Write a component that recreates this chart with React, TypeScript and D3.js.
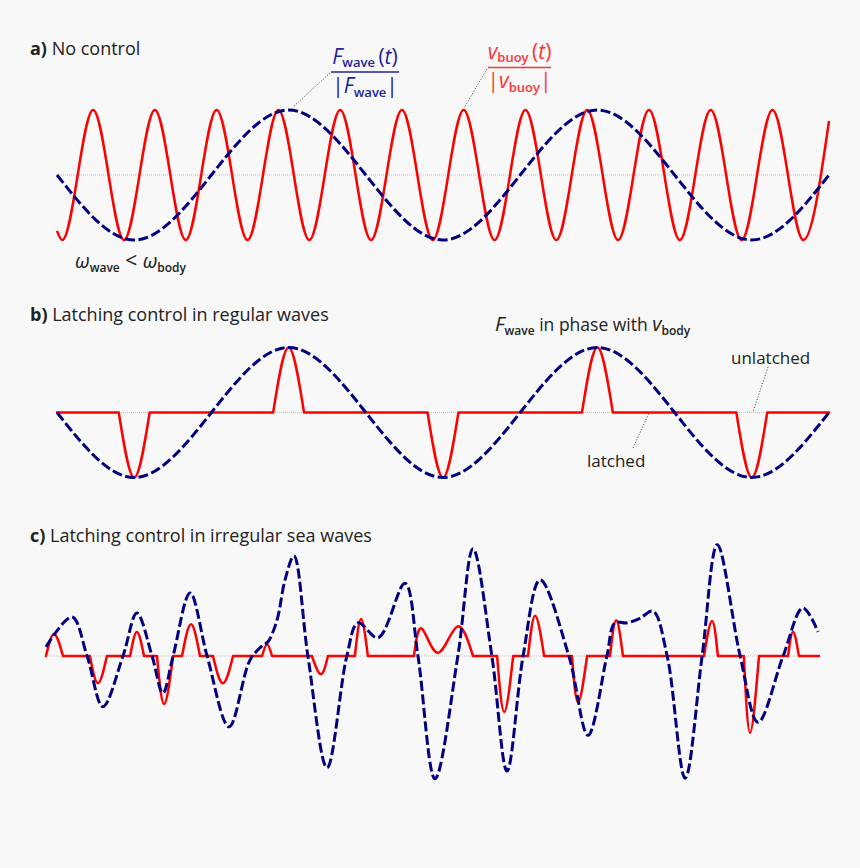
import * as React from 'react'
import { useEffect, useRef } from 'react'
import * as d3 from 'd3'

type Pt = [number, number]

// time axis (s) shared by the three panels
const T_END = 25

// panel a / b : regular wave force (normalised)
const regularWave: Pt[] = [
  [0, 0], [2.5, -1], [5, 0], [7.5, 1], [10, 0], [12.5, -1], [15, 0],
  [17.5, 1], [20, 0], [22.5, -1], [25, 0],
]

// panel a : free buoy velocity, read at its crests and troughs
const buoyVelocityA: Pt[] = [
  [0, -0.86], [0.17, -1], [1.17, 1], [2.17, -1], [3.17, 1], [4.17, -1],
  [5.17, 1], [6.17, -1], [7.17, 1], [8.17, -1], [9.17, 1], [10.17, -1],
  [11.17, 1], [12.17, -1], [13.17, 1], [14.17, -1], [15.17, 1], [16.17, -1],
  [17.17, 1], [18.17, -1], [19.17, 1], [20.17, -1], [21.17, 1], [22.17, -1],
  [23.17, 1], [24.17, -1], [25, 0.83],
]

// panel b : unlatched pulses of the buoy velocity (latched = 0 in between)
const pulsesB: Pt[][] = [
  [[2, 0], [2.5, -1], [3, 0]],
  [[7, 0], [7.5, 1], [8, 0]],
  [[12, 0], [12.5, -1], [13, 0]],
  [[17, 0], [17.5, 1], [18, 0]],
  [[22, 0], [22.5, -1], [23, 0]],
]

// panel c : irregular sea force
const irregularWave: Pt[] = [
  [0, 0.14], [0.84, 0.6], [1.33, 0], [1.84, -0.78], [2.49, 0], [2.94, 0.66],
  [3.43, 0], [3.78, -0.57], [4.11, 0], [4.66, 0.97], [5.21, 0], [5.92, -1.09],
  [6.6, -0.06], [7.02, 0.17], [7.18, 0.22], [7.47, 0.55], [7.73, 1.17],
  [8.02, 1.54], [8.47, 0], [9.09, -1.72], [9.73, 0], [10.09, 0.51],
  [10.74, 0.28], [11.61, 1.12], [12.03, 0], [12.58, -1.89], [13.32, 0],
  [13.81, 1.65], [14.42, 0], [14.91, -1.77], [15.43, 0], [15.98, 1.17],
  [16.91, 0], [17.53, -1.22], [18.14, 0], [18.4, 0.51], [18.79, 0.51],
  [19.21, 0.58], [19.63, 0.69], [20.09, 0], [20.67, -1.88], [21.22, 0],
  [21.71, 1.71], [22.45, 0], [23.03, -1.02], [23.84, 0], [24.48, 0.74],
  [24.97, 0.37],
]

// panel c : unlatched pulses of the buoy velocity
const pulsesC: Pt[][] = [
  [[0, 0], [0.26, 0.34], [0.55, 0]],
  [[1.42, 0], [1.68, -0.42], [1.97, 0]],
  [[2.72, 0], [2.94, 0.37], [3.17, 0]],
  [[3.59, 0], [3.82, -0.74], [4.11, 0]],
  [[4.4, 0], [4.69, 0.49], [4.98, 0]],
  [[5.4, 0], [5.72, -0.42], [6.05, 0]],
  [[6.99, 0], [7.15, 0.18], [7.31, 0]],
  [[8.6, 0], [8.89, -0.28], [9.12, 0]],
  [[9.99, 0], [10.19, 0.57], [10.41, 0]],
  [[11.9, 0], [12.16, 0.42], [12.68, 0.05], [13.29, 0.45], [13.81, 0]],
  [[14.59, 0], [14.82, -0.86], [15.11, 0]],
  [[15.59, 0], [15.82, 0.62], [16.11, 0]],
  [[17.01, 0], [17.21, -0.71], [17.5, 0]],
  [[18.24, 0], [18.44, 0.55], [18.66, 0]],
  [[21.28, 0], [21.54, 0.54], [21.73, 0]],
  [[22.57, 0], [22.77, -1.18], [23.06, 0]],
  [[24.0, 0], [24.16, 0.37], [24.35, 0]],
]

const titles = [
  ['a)', 'No control'],
  ['b)', 'Latching control in regular waves'],
  ['c)', 'Latching control in irregular sea waves'],
]

const BLUE = '#000080'
const BLUE_TEXT = '#23239a'
const RED = '#ff0000'
const RED_TEXT = '#ff3535'
const INK = '#222222'
const FONT = '"Open Sans", Lato, sans-serif'

const App = () => {
  const chartRef = useRef<SVGSVGElement>(null)

  useEffect(() => {
    const svg = d3.select(chartRef.current)
    svg.selectAll('*').remove()

    svg.append('rect').attr('width', 860).attr('height', 868).attr('fill', '#f8f8f8')

    const xAB = d3.scaleLinear().domain([0, T_END]).range([57, 829])
    const xC = d3.scaleLinear().domain([0, T_END]).range([46, 819])
    const yA = d3.scaleLinear().domain([-1, 1]).range([240, 110])
    const yB = d3.scaleLinear().domain([-1, 1]).range([477.5, 347.5])
    const yC = d3.scaleLinear().domain([-1, 1]).range([721, 591])

    const baseline = (x: d3.ScaleLinear<number, number>, y: d3.ScaleLinear<number, number>) =>
      svg.append('line')
        .attr('x1', x(0)).attr('x2', x(T_END))
        .attr('y1', y(0)).attr('y2', y(0))
        .attr('stroke', '#b5b5b5')
        .attr('stroke-width', 0.8)
        .attr('stroke-dasharray', '1,1')

    const smooth = (x, y, curve) => d3.line<Pt>().x(d => x(d[0])).y(d => y(d[1])).curve(curve)

    const drawWave = (data: Pt[], x, y, curve) =>
      svg.append('path')
        .attr('d', smooth(x, y, curve)(data))
        .attr('fill', 'none')
        .attr('stroke', BLUE)
        .attr('stroke-width', 3)
        .attr('stroke-dasharray', '10,3.5')

    // latched velocity: flat between pulses, pulses drawn as smooth humps
    const drawLatched = (pulses: Pt[][], x, y) => {
      const flat = d3.line<Pt>().x(d => x(d[0])).y(d => y(d[1]))
      const hump = smooth(x, y, d3.curveNatural)
      let d = ''
      let t0 = 0
      pulses.forEach(p => {
        if (p[0][0] > t0) d += flat([[t0, 0], [p[0][0], 0]])
        d += hump(p)
        t0 = p[p.length - 1][0]
      })
      if (t0 < T_END) d += flat([[t0, 0], [T_END, 0]])
      svg.append('path')
        .attr('d', d)
        .attr('fill', 'none')
        .attr('stroke', RED)
        .attr('stroke-width', 2.5)
        .attr('stroke-linejoin', 'round')
        .attr('stroke-linecap', 'round')
    }

    // panel a
    baseline(xAB, yA)
    svg.append('path')
      .attr('d', smooth(xAB, yA, d3.curveMonotoneX)(buoyVelocityA))
      .attr('fill', 'none')
      .attr('stroke', RED)
      .attr('stroke-width', 2.5)
    drawWave(regularWave, xAB, yA, d3.curveNatural)

    // panel b
    baseline(xAB, yB)
    drawLatched(pulsesB, xAB, yB)
    drawWave(regularWave, xAB, yB, d3.curveNatural)

    // panel c
    baseline(xC, yC)
    drawLatched(pulsesC, xC, yC)
    drawWave(irregularWave, xC, yC, d3.curveCatmullRom.alpha(0.5))

    // titles
    const titleY = [55, 321, 542]
    titles.forEach((t, i) => {
      const txt = svg.append('text')
        .attr('x', 30).attr('y', titleY[i])
        .style('font-family', FONT).style('font-size', '18px')
        .attr('fill', INK)
      txt.append('tspan').style('font-weight', 'bold').text(t[0])
      txt.append('tspan').text(' ' + t[1])
    })

    const leader = (x1, y1, x2, y2) =>
      svg.append('line')
        .attr('x1', x1).attr('y1', y1).attr('x2', x2).attr('y2', y2)
        .attr('stroke', '#555').attr('stroke-width', 1)
        .attr('stroke-dasharray', '1.2,1.6')

    // symbol with subscript, e.g. F_wave
    const sym = (sel, base: string, sub: string, size: number, subSize: number, drop = 0.2) => {
      sel.append('tspan').style('font-style', 'italic').style('font-size', size + 'px').text(base)
      sel.append('tspan').style('font-size', subSize + 'px').style('font-weight', 600)
        .attr('baseline-shift', -(size * drop) + 'px').text(sub)
    }

    const fraction = (cx, yNum, yBar, yDen, half, base, sub, color) => {
      const num = svg.append('text').attr('x', cx).attr('y', yNum)
        .attr('text-anchor', 'middle').attr('fill', color).style('font-family', FONT)
      sym(num, base, sub, 21, 13, 0.14)
      num.append('tspan').style('font-size', '21px').text('\u2009(')
      num.append('tspan').style('font-size', '21px').style('font-style', 'italic').text('t')
      num.append('tspan').style('font-size', '21px').text(')')
      svg.append('line').attr('x1', cx - half).attr('x2', cx + half)
        .attr('y1', yBar).attr('y2', yBar).attr('stroke', color).attr('stroke-width', 1.3)
      const den = svg.append('text').attr('x', cx).attr('y', yDen)
        .attr('text-anchor', 'middle').attr('fill', color).style('font-family', FONT)
      den.append('tspan').style('font-size', '21px').text('|')
      sym(den, base, sub, 21, 13)
      den.append('tspan').style('font-size', '21px').text('|')
    }

    fraction(365, 64, 72, 93, 34, 'F', 'wave', BLUE_TEXT)
    leader(330, 73, 293, 107)
    fraction(519.5, 59, 67.5, 88, 31.5, 'v', 'buoy', RED_TEXT)
    leader(487, 69, 464, 108)

    // omega relation
    const om = svg.append('text').attr('x', 75).attr('y', 268)
      .attr('fill', INK).style('font-family', FONT)
    sym(om, '\u03c9', 'wave', 20, 12)
    om.append('tspan').style('font-size', '21px').text(' < ')
    sym(om, '\u03c9', 'body', 20, 12)

    // panel b notes
    const phase = svg.append('text').attr('x', 495).attr('y', 331)
      .attr('fill', INK).style('font-family', FONT)
    sym(phase, 'F', 'wave', 20, 12)
    phase.append('tspan').style('font-size', '17.5px').text(' in phase with ')
    sym(phase, 'v', 'body', 20, 12)

    svg.append('text').attr('x', 731).attr('y', 364).attr('fill', INK)
      .style('font-family', FONT).style('font-size', '17px').text('unlatched')
    leader(768, 367, 753, 412)
    svg.append('text').attr('x', 587).attr('y', 467).attr('fill', INK)
      .style('font-family', FONT).style('font-size', '17px').text('latched')
    leader(633, 448, 649, 413)
  }, [])

  return (
    <svg ref={chartRef} width={860} height={868}
      style={{ position: 'absolute', left: 0, top: 0 }} />
  )
}

export default App
